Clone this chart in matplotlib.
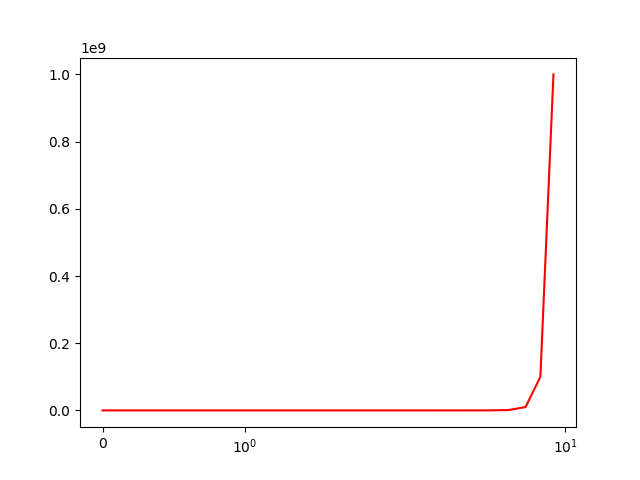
import numpy as np
import matplotlib
matplotlib.use('Agg')
import matplotlib.pyplot as plt

x = [0, 1, 2, 3, 4, 5, 6, 7, 8, 9]
y = [1e0, 1e1, 1e2, 1e3, 1e4, 1e5, 1e6, 1e7, 1e8, 1e9]

fig, ax = plt.subplots(figsize=(6.4, 4.8), dpi=100)
ax.plot(x, y, color='r')
ax.set_xscale('symlog')
fig.savefig('out.png')
